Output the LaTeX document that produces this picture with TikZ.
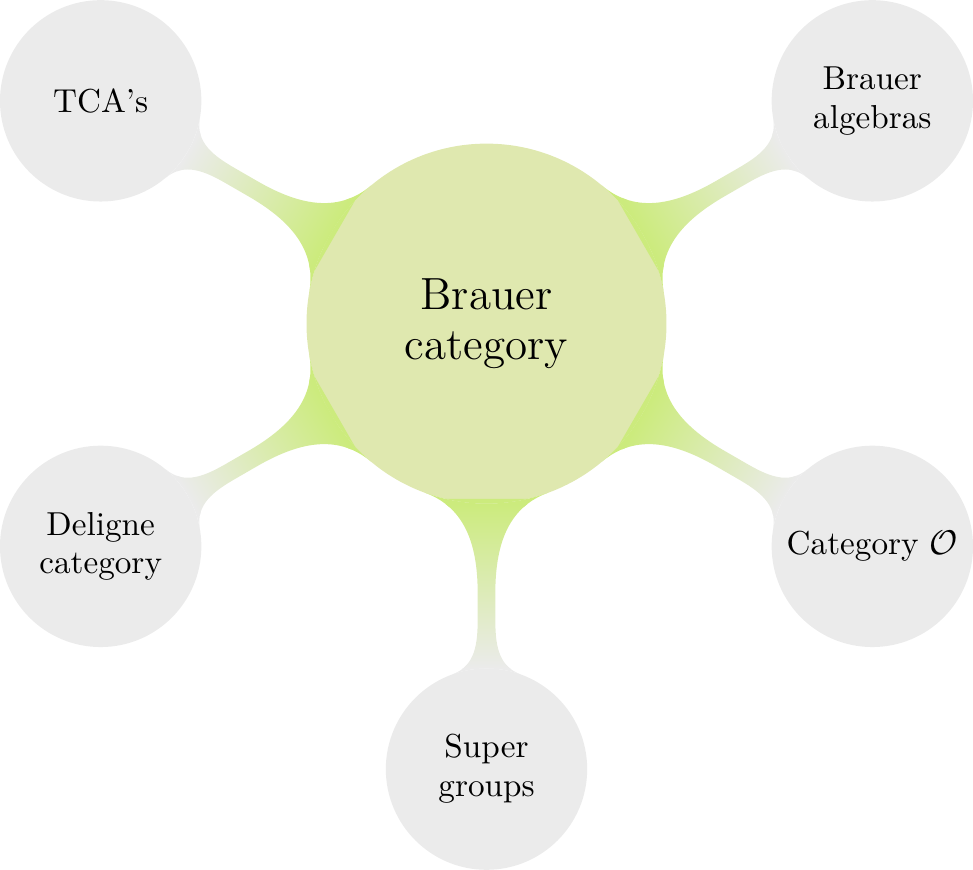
\documentclass[tikz,border=0pt]{standalone}
\usetikzlibrary{mindmap}
\definecolor{rootfill}{RGB}{223,232,175}
\definecolor{barcol}{RGB}{204,235,125}
\definecolor{leafcol}{RGB}{235,235,235}
\begin{document}
\begin{tikzpicture}[mindmap, text=black,
  rootc/.style={concept, concept color=barcol, fill=rootfill, draw=none, minimum size=4.04cm, text width=3.4cm,
    inner sep=0pt, font=\fontsize{14.4}{16.2}\selectfont},
  leafc/.style={concept, concept color=leafcol, draw=none, minimum size=2.26cm, text width=1.95cm,
    inner sep=0pt, font=\fontsize{10.6}{12.4}\selectfont},
  bar/.style={circle connection bar switch color=from (barcol) to (leafcol)},
  seg/.style={fill=barcol}]
  \useasboundingbox (-5.46,-6.132) rectangle (5.46,3.632);
  \node[rootc] (root) at (0,0) {Brauer\\ category};
  \node[leafc] (tca) at (150:5) {TCA's};
  \node[leafc] (ba) at (30:5) {Brauer\\ algebras};
  \node[leafc] (co) at (-30:5) {Category $\mathcal{O}$};
  \node[leafc] (sg) at (-90:5) {Super\\ groups};
  \node[leafc] (dc) at (210:5) {Deligne\\ category};
  \path (root) to[bar] (tca);
  \path (root) to[bar] (ba);
  \path (root) to[bar] (co);
  \path (root) to[bar] (sg);
  \path (root) to[bar] (dc);
  \foreach \a in {150,30,-30,-90,210}{
    \fill[seg] (root.center) ++(\a-13:2.02) arc[start angle=\a-13, end angle=\a+13, radius=2.02] -- cycle;
  }
\end{tikzpicture}
\end{document}
